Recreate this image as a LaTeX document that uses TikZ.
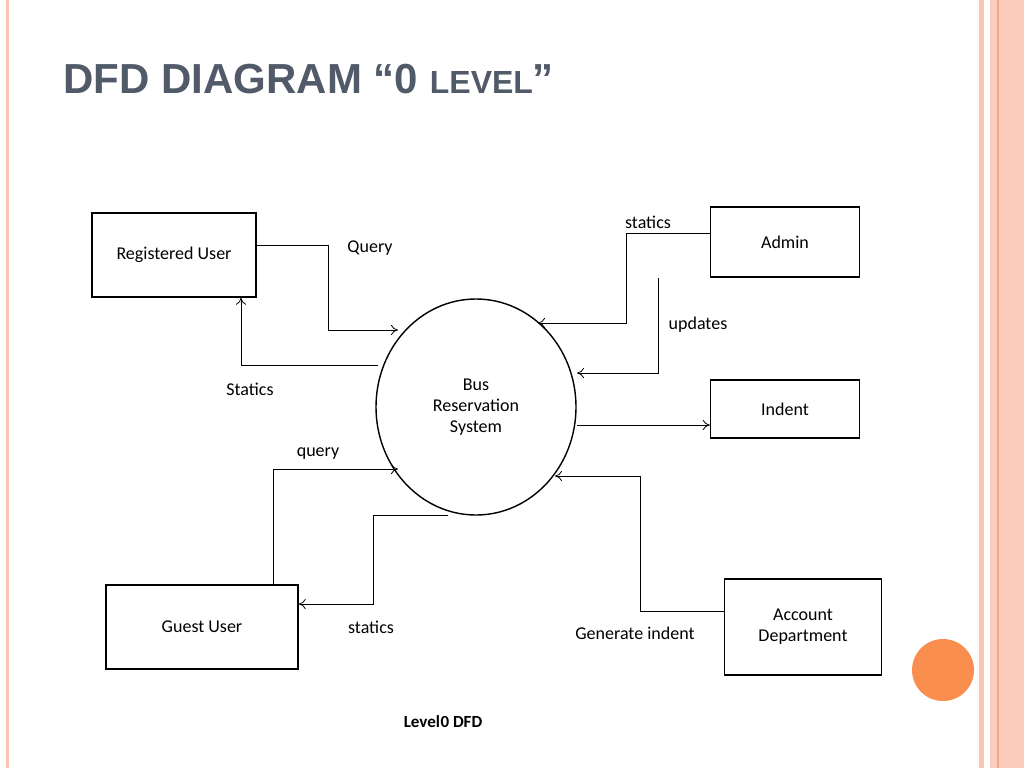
\documentclass[tikz,border=0pt]{standalone}
\usepackage{fontspec}
\setmainfont{Carlito}
\newfontfamily\titlefont{Liberation Sans}
\usetikzlibrary{shapes.geometric,arrows.meta}
\definecolor{salmon}{HTML}{F9C6B4}
\definecolor{salmondark}{HTML}{F0A888}
\definecolor{titlegrey}{HTML}{505A68}
\definecolor{dotorange}{HTML}{F98E4E}

\begin{document}
\begin{tikzpicture}[x=1pt, y=-1pt,
    entity/.style={rectangle, draw, line width=1.4pt, inner sep=0pt},
    flow/.style={-{To[length=7pt,width=10pt]}, line width=0.8pt},
    lbl/.style={font=\fontsize{18}{21}\selectfont}]
    \useasboundingbox (0,0) rectangle (1024,768);
    % slide frame
    \fill[salmon] (6,0) rectangle (9,768);
    \fill[salmon] (979,0) rectangle (984,768);
    \fill[salmon!90] (990,0) rectangle (1024,768);
    \draw[salmondark, line width=1.2pt] (998,0) -- (998,768);
    \fill[dotorange] (943,670) circle (31);
    \node[anchor=base west, text=titlegrey, font=\titlefont\bfseries\fontsize{42}{46}\selectfont] (title) at (60,93)
        {DFD DIAGRAM “0 \fontsize{32}{36}\selectfont LEVEL\fontsize{42}{46}\selectfont”};

            \node[entity, minimum width=164, minimum height=84, lbl] (ru) at (174,255) {Registered User};
            \node[entity, minimum width=149, minimum height=70, lbl] (admin) at (785,242) {Admin};
            \node[entity, minimum width=149, minimum height=58, lbl] (indent) at (785,409) {Indent};
            \node[entity, minimum width=192, minimum height=84, lbl] (guest) at (202,627) {Guest User};
            \node[entity, minimum width=157, minimum height=96, lbl, align=center] (acct) at (803,627) {Account\\Department};
            \node[ellipse, draw, line width=1.4pt, minimum width=200, minimum height=216, lbl, align=center] (bus) at (476,407) {Bus\\Reservation\\System};

            \coordinate (q1) at (398,330);
            \coordinate (s1) at (378,365);
            \coordinate (s2) at (538,323);
            \coordinate (u1) at (577,373);
            \coordinate (i1) at (577,425);
            \coordinate (g1) at (555,476);
            \coordinate (q2) at (398,469);
            \coordinate (s3) at (448,515);

            \draw[flow] (ru.east |- 0,245) -| (328,330) -- (q1);
            \draw[flow] (s1) -| (ru.south -| 241,0);
            \draw[flow] (admin.west |- 0,233) -| (626,323) -- (s2);
            \draw[flow] (admin.south -| 658,0) |- (u1);
            \draw[flow] (i1) -- (indent.west |- i1);
            \draw[flow] (acct.west |- 0,611) -| (640,476) -- (g1);
            \draw[flow] (guest.north -| 273,0) |- (q2);
            \draw[flow] (s3) -| (373,604) -- (guest.east |- 0,604);

            \node[lbl] (l_query) at (370,248) {Query};
            \node[lbl] (l_statics) at (250,389) {Statics};
            \node[lbl] (l_astat) at (648,222) {statics};
            \node[lbl] (l_upd) at (698,325) {updates};
            \node[lbl] (l_gen) at (635,633) {Generate indent};
            \node[lbl] (l_gquery) at (318,454) {query};
            \node[lbl] (l_gstat) at (371,627) {statics};
            \node[font=\bfseries\fontsize{17}{19}\selectfont] (caption) at (443,722) {Level\kern0.5pt0 DFD};
        \end{tikzpicture}
\end{document}
